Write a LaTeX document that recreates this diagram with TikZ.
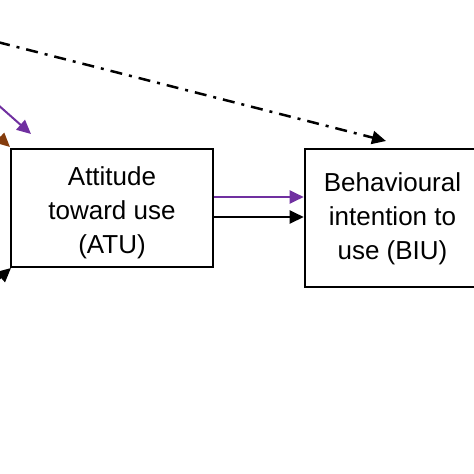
\documentclass[tikz,border=0pt]{standalone}
\usepackage{fontspec}
\setmainfont{Liberation Sans}
\usetikzlibrary{arrows.meta}
\definecolor{tampurple}{RGB}{112,48,160}
\definecolor{tambrown}{RGB}{132,60,12}

\tikzset{
  construct/.style={draw,line width=2.6pt,align=center,inner sep=0pt,
    font=\fontsize{26}{34}\selectfont},
  link/.style={line width=2.5pt,-{Triangle[length=14pt,width=13pt]}},
  plink/.style={link,tampurple,line width=2pt},
  blink/.style={link,tambrown},
  dlink/.style={link,dash pattern=on 12pt off 7pt on 3pt off 7pt}
}

\begin{document}
\begin{tikzpicture}[x=1pt,y=1pt,yscale=-1,xscale=1]
  \clip (0,0) rectangle (474,474);
  \useasboundingbox (0,0) rectangle (474,474);
  % constructs
  \node[construct,minimum width=202pt,minimum height=118pt] (ATU) at (112,208) {\rule{0pt}{29pt}Attitude\\toward use\\(ATU)};
  \node[construct,minimum width=175pt,minimum height=138pt] (BIU) at (392.5,218) {\rule{0pt}{20pt}Behavioural\\intention to\\use (BIU)};
  % ends of links coming from outside the picture
  \coordinate (dfrom) at (-30,35);
  \coordinate (dtip) at (386,141);
  \coordinate (pfrom) at (-12,96);
  \coordinate (ptip) at (31,134);
  \coordinate (bfrom) at (-22,118);
  \coordinate (btip) at (10,147);
  \coordinate (kfrom) at (-14,290);
  \coordinate (ktip) at (11,268);
  % links
  \draw[dlink] (dfrom) -- (dtip);
  \draw[plink] (pfrom) -- (ptip);
  \draw[blink] (bfrom) -- (btip);
  \draw[link] (kfrom) -- (ktip);
  \draw[plink] ([yshift=-11pt]ATU.east) coordinate (pa) -- (pa -| BIU.west);
  \draw[link] ([yshift=9pt]ATU.east) coordinate (ka) -- (ka -| BIU.west);
\end{tikzpicture}
\end{document}
